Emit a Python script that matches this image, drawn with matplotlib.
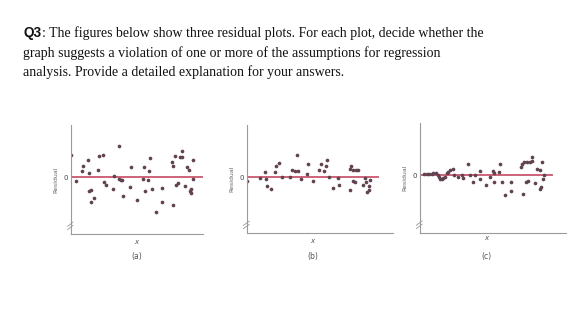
import matplotlib.pyplot as plt

W, H = 573, 330

# residual plot (a): x position (0-100) and residual (pixel-ish units)
a_x = [0, 3.8, 8.2, 8.9, 12.8, 14.0, 14.0, 15.1, 15.1, 17.9, 20.4, 21.4, 24.7, 25.5,
       26.5, 32.4, 32.9, 37.0, 36.5, 38.0, 38.8, 40.1, 45.2, 45.9, 50.3, 54.8, 55.9,
       56.4, 59.2, 59.7, 60.5, 61.7, 65.1, 69.4, 69.6, 78.3, 77.6, 78.3, 79.6, 80.4,
       82.1, 83.4, 84.7, 85.2, 87.2, 88.5, 90.6, 91.1, 91.6, 92.1, 93.1, 93.6]
a_r = [22.3, -4.3, 5.7, 11.3, 16.7, 4.0, -13.7, -12.7, -25.3, -21.0, 6.7, 20.7, 22.0,
       -5.3, -7.7, -12.0, 1.3, 30.7, -2.0, -3.3, -2.7, -18.7, -10.0, 9.7, -22.7, -2.0,
       10.0, -14.3, -2.7, 6.3, 19.0, -12.0, -35.0, -11.0, -25.3, -27.7, 14.7, 10.7,
       20.7, -8.0, -6.3, 20.0, 19.7, 25.7, -8.7, 10.0, 6.7, -13.7, -16.0, -12.0, 17.3, -2.0]

# residual plot (b)
b_x = [0, 9.6, 13.4, 14.7, 15.2, 18.2, 21.0, 22.3, 24.8, 26.6, 32.9, 34.2, 36.7, 38.0,
       39.2, 41.0, 45.6, 46.8, 50.6, 55.2, 56.2, 59.0, 60.3, 61.3, 62.8, 65.8, 69.6,
       70.4, 79.0, 79.7, 81.0, 83.0, 84.8, 79.0, 81.0, 82.8, 88.6, 89.9, 91.1, 91.9,
       92.9, 93.2, 93.7]
b_r = [-3.7, -1, 4.7, -2, -9.3, -11.7, 4.7, 10.7, 14, 0, 0, 6.7, 5.7, 22.3, 5.7, -2, 3,
       13, -3.7, 6.7, 13, 5.7, 10.7, 16.7, 0, -11, -1, -7.7, 8, 10.7, 7.3, 7.3, 7.3,
       -12.7, -4.3, -4.7, -7.7, -1.3, -5.3, -15, -12.7, -9.3, -2.7]

# residual plot (c): spread grows with x
c_x = [3.0, 5.1, 7.1, 8.9, 10.1, 12.2, 13.4, 14.7, 15.2, 16.5, 17.7, 19.0, 20.3, 21.5,
       22.8, 24.8, 26.1, 29.1, 31.6, 32.9, 36.7, 37.5, 40.0, 41.8, 45.6, 45.6, 50.1,
       53.2, 55.2, 55.7, 56.2, 59.5, 60.3, 62.0, 64.6, 69.1, 69.1, 76.5, 77.5, 78.0,
       79.0, 80.5, 81.8, 81.0, 83.0, 84.8, 85.1, 87.3, 88.6, 90.6, 91.1, 91.9, 92.7,
       93.2, 93.7]
c_r = [0.7, 0.7, 1.0, 1.0, 1.7, 2.3, 0, -2.3, -3.7, -4.3, -3.3, -1.7, 1.7, 3.3, 5.0,
       5.7, 0, -2.3, 0, -3.3, 10.7, 0, -6.7, 0, 4.3, -4.3, -10, -1.7, 4.3, -6.7, 1.7,
       2.7, 10.7, -6.7, -20, -6.7, -15.7, 8.3, 10.7, -19, 13.3, -6.7, -6, 13.3, 13.3,
       18.3, 14, -7.7, 6.3, 5, -14.3, -11.7, 13.3, -4, 0]

fig = plt.figure(figsize=(W / 100, H / 100), dpi=100)

# question text
fig.text(23 / W, 1 - 33 / H, 'Q3', fontsize=9.8, fontweight='bold',
         family='Liberation Sans', va='center', color='#111')
fig.text(42 / W, 1 - 33 / H,
         ': The figures below show three residual plots. For each plot, decide whether the',
         fontsize=10, family='Liberation Serif', va='center', color='#111')
fig.text(23 / W, 1 - 53 / H,
         'graph suggests a violation of one or more of the assumptions for regression',
         fontsize=10, family='Liberation Serif', va='center', color='#111')
fig.text(23 / W, 1 - 72 / H,
         'analysis. Provide a detailed explanation for your answers.',
         fontsize=10, family='Liberation Serif', va='center', color='#111')

# left px, right px, top px, zero px, bottom px, px per x unit, data, tag, x-label y
panels = [
    (71, 203, 125, 177, 234, 1.307, a_x, a_r, '(a)', 242),
    (247, 393, 125, 177, 233, 1.31, b_x, b_r, '(b)', 241),
    (420, 566, 123, 175, 233, 1.32, c_x, c_r, '(c)', 238),
]

for left, right, top, zero, bottom, ppu, xs, rs, tag, xlab_y in panels:
    ax = fig.add_axes([left / W, 1 - bottom / H, (right - left) / W, (bottom - top) / H])
    ax.set_xlim(0, (right - left) / ppu)
    ax.set_ylim(-(bottom - zero), zero - top)
    ax.plot([-1, 100], [0, 0], color='#c9566e', lw=1.3, zorder=1)
    ax.scatter(xs, rs, s=7, color='#604250', zorder=2, linewidths=0)
    for s in ['top', 'right']:
        ax.spines[s].set_visible(False)
    for s in ['left', 'bottom']:
        ax.spines[s].set_color('#9a9a9a')
        ax.spines[s].set_linewidth(0.8)
    ax.set_xticks([])
    ax.set_yticks([0])
    ax.set_yticklabels(['0'], fontsize=5, color='#444')
    ax.tick_params(axis='y', length=0, pad=2)
    ax.set_ylabel('Residual', fontsize=4.5, color='#666', labelpad=4)
    # axis break mark
    ax.plot([-0.025, 0.015], [0.07, 0.11], transform=ax.transAxes, color='#999',
            lw=0.6, clip_on=False)
    ax.plot([-0.025, 0.015], [0.04, 0.08], transform=ax.transAxes, color='#999',
            lw=0.6, clip_on=False)
    fig.text((left + 50 * ppu) / W, 1 - xlab_y / H, 'x', fontsize=5,
             style='italic', color='#555', ha='center', va='center')
    fig.text((left + 50 * ppu) / W, 1 - 257 / H, tag, fontsize=5.5, color='#555',
             ha='center', va='center')

plt.savefig('out.png', dpi=100)
